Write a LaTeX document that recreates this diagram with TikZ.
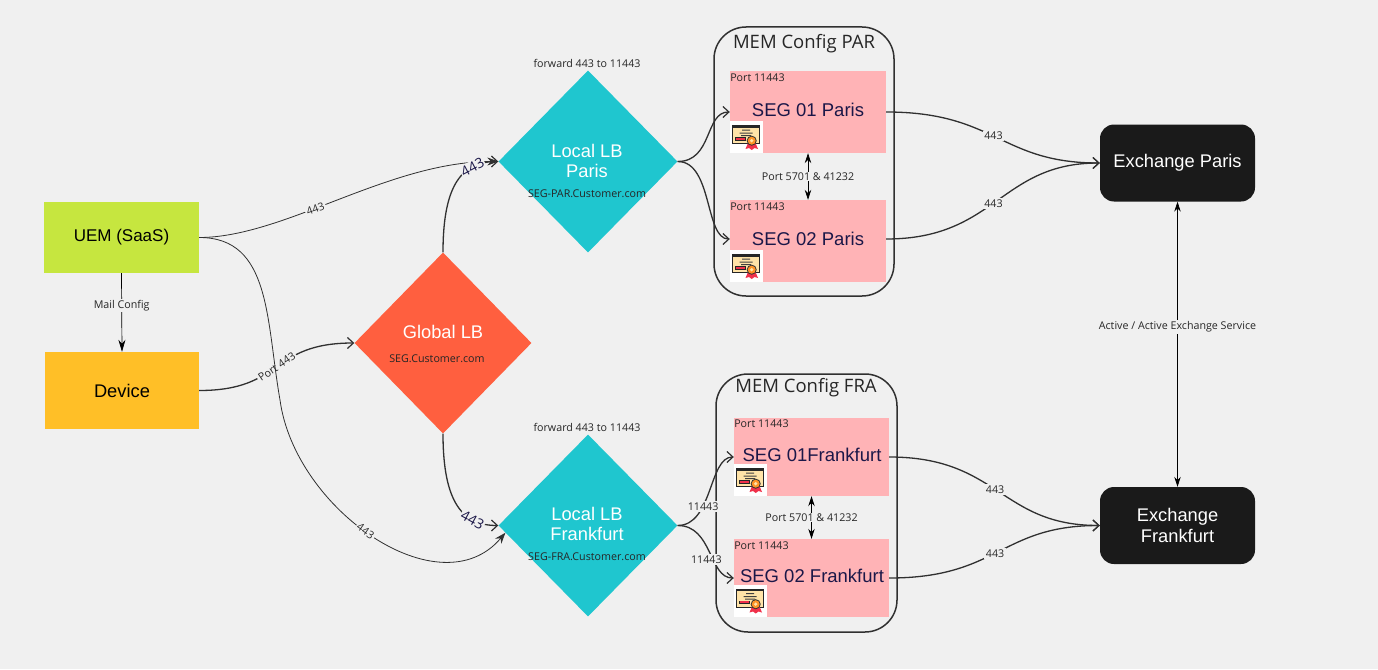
\documentclass[tikz,border=0pt]{standalone}
\usepackage{fontspec}
\setmainfont{Open Sans}
\newfontfamily\boxfont{Liberation Sans}
\usepackage{xcolor}
\usetikzlibrary{positioning,shapes.geometric,arrows.meta}
\definecolor{canvas}{HTML}{F0F0F0}
\definecolor{uemgreen}{HTML}{C6E63F}
\definecolor{devyellow}{HTML}{FFBF27}
\definecolor{globalred}{HTML}{FF5F3F}
\definecolor{localteal}{HTML}{1FC6CF}
\definecolor{segpink}{HTML}{FFB3B6}
\definecolor{segnavy}{HTML}{1B1748}
\definecolor{exchblack}{HTML}{1A1A1A}
\definecolor{linegrey}{HTML}{303030}
\definecolor{certcream}{HTML}{FFE3A8}
\definecolor{certred}{HTML}{F0304A}

\begin{document}
\begin{tikzpicture}[
		x=1pt, y=-1pt,
		box/.style={rectangle, minimum width=#1, inner sep=0pt, font=\boxfont\fontsize{18.3}{21}\selectfont},
		uem/.style={box=155pt, fill=uemgreen, minimum height=71pt, text=black, font=\boxfont\fontsize{17}{20}\selectfont},
		device/.style={box=154pt, fill=devyellow, minimum height=77pt, text=black},
		seg/.style={box=156pt, fill=segpink},
		segtext/.style={text=segnavy, font=\boxfont\fontsize{18.5}{21}\selectfont},
		exch/.style={box=155pt, fill=exchblack, rounded corners=14pt, minimum height=77pt, text=white, align=center},
		lb/.style={diamond, aspect=1, inner sep=0pt},
		lbtext/.style={text=white, align=center, font=\boxfont\fontsize{18.3}{20.5}\selectfont},
		config/.style={rectangle, draw=linegrey, line width=1.5pt, rounded corners=32pt, minimum width=180pt},
		configtext/.style={font=\fontsize{18.5}{21}\selectfont, text=black!85},
		small/.style={font=\fontsize{10.7}{12}\selectfont, text=black!85, inner sep=1pt},
		onwire/.style={small, fill=canvas, inner sep=1.5pt},
		wirelabel/.style={fill=canvas, inner sep=1pt, text=segnavy, font=\fontsize{14}{16}\selectfont},
		wire/.style={draw=linegrey, line width=1.3pt, -{Straight Barb[length=6pt,width=11pt,line width=1.2pt]}},
		thinwire/.style={draw=linegrey, line width=0.8pt, -{Stealth[length=11pt,width=8pt]}},
		link/.style={draw=black, line width=0.7pt, {Stealth[length=10pt,width=6.5pt]}-{Stealth[length=10pt,width=6.5pt]}},
		oneway/.style={draw=black, line width=0.7pt, -{Stealth[length=12pt,width=7pt]}},
		cert/.pic={
			\fill[white] (0,0) rectangle (32.5,32);
			\fill[black!85] (2,4) rectangle (30,23);
			\fill[certcream] (3,6.5) rectangle (29,22);
			\fill[black!75] (12,8.5) rectangle (20,9.5) (9.5,11.5) rectangle (22.5,12.5) (11,14) rectangle (21,15);
			\fill[black!85] (4.5,16) rectangle (15.5,19.5);
			\fill[certred] (5.5,16.8) rectangle (14.5,18.7);
			\fill[certred] (18,22) -- (15.5,28) -- (19,27) -- (21.7,29) -- (24.5,27) -- (28,28) -- (25.5,22) -- cycle;
			\fill[black!80] (21.7,19.7) circle (5pt);
			\fill[orange!85] (21.7,19.7) circle (4pt);
			\fill[certcream] (21.7,19.7) circle (1.8pt);
		},
		]
		\fill[canvas] (0,0) rectangle (1378,669);

		%Sources
		\node[uem]		(uem)		at (121.5,237.5)	{UEM (SaaS)};
		\node[device]	(device)	at (122,390.5)		{Device};

		%Global LB
		\node[lb, fill=globalred, minimum width=177pt, minimum height=181pt]	(global)	at (443,343)	{};
		\node[lbtext]	(global_txt)	at (443,332)	{Global LB};
		\node[small]	(global_dom)	at (437,359)	{SEG.Customer.com};

		%Local LB Paris
		\node[lb, fill=localteal, minimum width=179pt, minimum height=182pt]	(lb_par)	at (588,161.5)	{};
		\node[lbtext]	(lb_par_txt)	at (587,161)	{Local LB\\Paris};
		\node[small]	(lb_par_dom)	at (587,194)	{SEG-PAR.Customer.com};
		\node[small]	(lb_par_fwd)	at (587,63)		{forward 443 to 11443};

		%Local LB Frankfurt
		\node[lb, fill=localteal, minimum width=179pt, minimum height=182pt]	(lb_fra)	at (588,525.5)	{};
		\node[lbtext]	(lb_fra_txt)	at (587,524)	{Local LB\\Frankfurt};
		\node[small]	(lb_fra_dom)	at (587,557)	{SEG-FRA.Customer.com};
		\node[small]	(lb_fra_fwd)	at (587,427)	{forward 443 to 11443};

		%MEM Config PAR
		\node[config, minimum height=269pt]	(mem_par)	at (804,161.5)	{};
		\node[configtext]	(mem_par_txt)	at (804,44)	{MEM Config PAR};
		\node[seg, minimum height=82pt]	(seg1_par)	at (808,112)	{};
		\node[seg, minimum height=82pt]	(seg2_par)	at (808,241)	{};
		\node[segtext]	(seg1_par_txt)	at (808,110)	{SEG 01 Paris};
		\node[segtext]	(seg2_par_txt)	at (808,239)	{SEG 02 Paris};
		\node[small]	(seg1_par_port)	at (757.5,78)	{Port 11443};
		\node[small]	(seg2_par_port)	at (757.5,207)	{Port 11443};
		\pic at (730,121) {cert};
		\pic at (730,250) {cert};

		%MEM Config FRA
		\node[config, minimum height=258pt, minimum width=181pt]	(mem_fra)	at (806.5,503)	{};
		\node[configtext]	(mem_fra_txt)	at (806,388)	{MEM Config FRA};
		\node[seg, minimum width=155pt, minimum height=78pt]	(seg1_fra)	at (811.5,457)	{};
		\node[seg, minimum width=155pt, minimum height=78pt]	(seg2_fra)	at (811.5,578)	{};
		\node[segtext]	(seg1_fra_txt)	at (812,455)	{SEG 01Frankfurt};
		\node[segtext]	(seg2_fra_txt)	at (812,576)	{SEG 02 Frankfurt};
		\node[small]	(seg1_fra_port)	at (761.5,424)	{Port 11443};
		\node[small]	(seg2_fra_port)	at (761.5,546)	{Port 11443};
		\pic at (734,464) {cert};
		\pic at (734,584.5) {cert};

		%Exchange
		\node[exch]	(ex_par)	at (1177.5,163)		{Exchange Paris};
		\node[exch]	(ex_fra)	at (1177.5,525.5)	{Exchange\\Frankfurt};

		%Source connectors
		\draw[oneway]	(uem.south)	--	node[onwire, pos=0.41]	{Mail Config}	(device.north);
		\draw[wire]	(device.east)	.. controls +(85,0) and +(-85,0) ..	node[onwire, sloped]	{Port 443}	(global.west);
		\draw[thinwire]	(uem.east)	.. controls +(85,0) and +(-110,0) ..	node[onwire, sloped, pos=0.42]	{443}	(lb_par.west);
		\draw[thinwire]	(uem.east)	.. controls +(72,0) and (266,320) .. (280,400) .. controls (295,510) and (440,610) ..	node[onwire, sloped, pos=0.47]	{443}	(lb_fra.185);

		%Global LB connectors
		\draw[wire]	(global.north)	.. controls +(0,-70) and +(-35,0) ..	node[wirelabel, pos=0.72, sloped]	{443}	(lb_par.west);
		\draw[wire]	(global.south)	.. controls +(0,70) and +(-35,0) ..	node[wirelabel, pos=0.72, sloped]	{443}	(lb_fra.west);

		%Local LB connectors
		\draw[wire]	(lb_par.east)	.. controls +(35,0) and +(-25,0) ..	(seg1_par.west);
		\draw[wire]	(lb_par.east)	.. controls +(35,0) and +(-25,0) ..	(seg2_par.west |- seg2_par_txt);
		\draw[wire]	(lb_fra.east)	.. controls +(35,0) and +(-25,0) ..	node[onwire, pos=0.35]	{11443}	(seg1_fra.west);
		\draw[wire]	(lb_fra.east)	.. controls +(35,0) and +(-25,0) ..	node[onwire, pos=0.6, xshift=-7pt]	{11443}	(seg2_fra.west);

		%SEG connectors
		\draw[wire]	(seg1_par.east)	.. controls +(110,0) and +(-100,0) ..	node[onwire, pos=0.48]	{443}	(ex_par.west);
		\draw[wire]	(seg2_par.east |- seg2_par_txt)	.. controls +(110,0) and +(-100,0) ..	node[onwire, pos=0.48]	{443}	(ex_par.west);
		\draw[wire]	(seg1_fra.east)	.. controls +(110,0) and +(-100,0) ..	node[onwire, pos=0.48]	{443}	(ex_fra.west);
		\draw[wire]	(seg2_fra.east)	.. controls +(110,0) and +(-100,0) ..	node[onwire, pos=0.48]	{443}	(ex_fra.west);

		%Port links
		\draw[link]	(seg1_par.south)	--	node[small, fill=canvas]	{Port 5701 \& 41232}	(seg2_par.north);
		\draw[link]	(seg1_fra.south)	--	node[small, fill=canvas]	{Port 5701 \& 41232}	(seg2_fra.north);
		\draw[link]	(ex_par.south)	--	node[onwire, pos=0.44]	{Active / Active Exchange Service}	(ex_fra.north);
	\end{tikzpicture}
\end{document}
